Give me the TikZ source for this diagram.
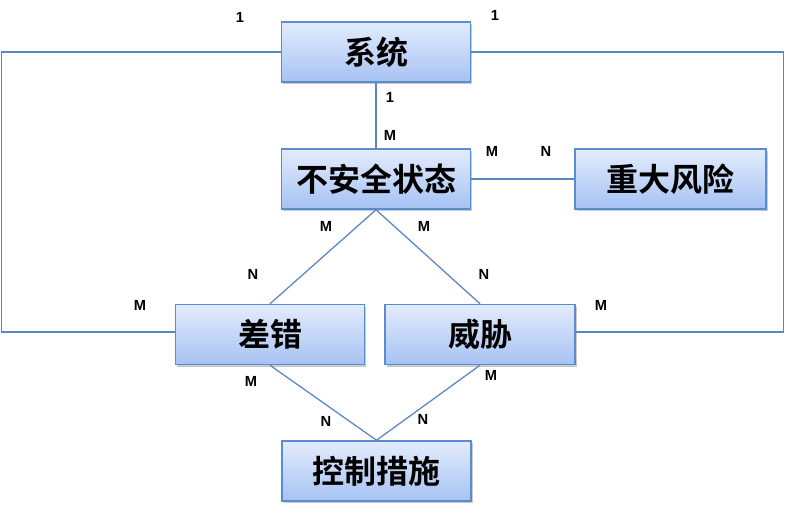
\documentclass[tikz,border=0pt]{standalone}
\usepackage{fontspec}
\setmainfont{Liberation Sans}
\newfontfamily\cjk{Noto Sans CJK SC}[BoldFont={* Bold}]
\usetikzlibrary{shadows}
\definecolor{boxtop}{HTML}{E3ECFC}
\definecolor{boxbot}{HTML}{A6C2F3}
\definecolor{boxline}{HTML}{5A8DD0}
\definecolor{conn}{HTML}{5A86C2}
\tikzset{
  entbox/.style={draw=boxline, line width=1.1pt, top color=boxtop, bottom color=boxbot,
    minimum width=189*0.75pt, minimum height=60*0.75pt, inner sep=0pt,
    font=\cjk\bfseries\fontsize{24}{27}\selectfont,
    drop shadow={shadow xshift=1.2pt, shadow yshift=-1.5pt, opacity=0.35, fill=black!60}},
  conline/.style={draw=conn, line width=0.95pt},
  card/.style={font=\bfseries\fontsize{11}{13}\selectfont, inner sep=0pt}
}
\begin{document}
\begin{tikzpicture}[x=0.75pt, y=-0.75pt]
\useasboundingbox (0,0) rectangle (785,518);
% nodes
\node[entbox] (sys) at (376,52) {系统};
\node[entbox] (unsafe) at (376,179) {不安全状态};
\node[entbox, minimum width=191*0.75pt] (risk) at (670.5,179) {重大风险};
\node[entbox] (err) at (270,334.5) {差错};
\node[entbox, minimum width=190*0.75pt] (threat) at (480,334.5) {威胁};
\node[entbox] (ctrl) at (376.5,471) {控制措施};
% corner coordinates
\coordinate (lc) at (1.5,332);
\coordinate (rc) at (783.5,332);
% connectors
\draw[conline] (sys.west) -| (lc) -- (err.west |- lc);
\draw[conline] (sys.east) -| (rc) -- (threat.east |- rc);
\draw[conline] (sys.south) -- (unsafe.north);
\draw[conline] (unsafe.east) -- (risk.west);
\draw[conline] (unsafe.south) -- (err.north);
\draw[conline] (unsafe.south) -- (threat.north);
\draw[conline] (err.south) -- (ctrl.north);
\draw[conline] (threat.south) -- (ctrl.north);
% cardinalities
\node[card] (c1) at (240,17) {1};
\node[card] (c2) at (495,15) {1};
\node[card] (c3) at (390,97) {1};
\node[card] (c4) at (390,135) {M};
\node[card] (c5) at (492,151) {M};
\node[card] (c6) at (546,151) {N};
\node[card] (c7) at (326,226) {M};
\node[card] (c8) at (424,226) {M};
\node[card] (c9) at (253,274) {N};
\node[card] (c10) at (484,274) {N};
\node[card] (c11) at (140,305) {M};
\node[card] (c12) at (601,305) {M};
\node[card] (c13) at (251,381) {M};
\node[card] (c14) at (491,375) {M};
\node[card] (c15) at (326,421) {N};
\node[card] (c16) at (423,419) {N};
\end{tikzpicture}
\end{document}
